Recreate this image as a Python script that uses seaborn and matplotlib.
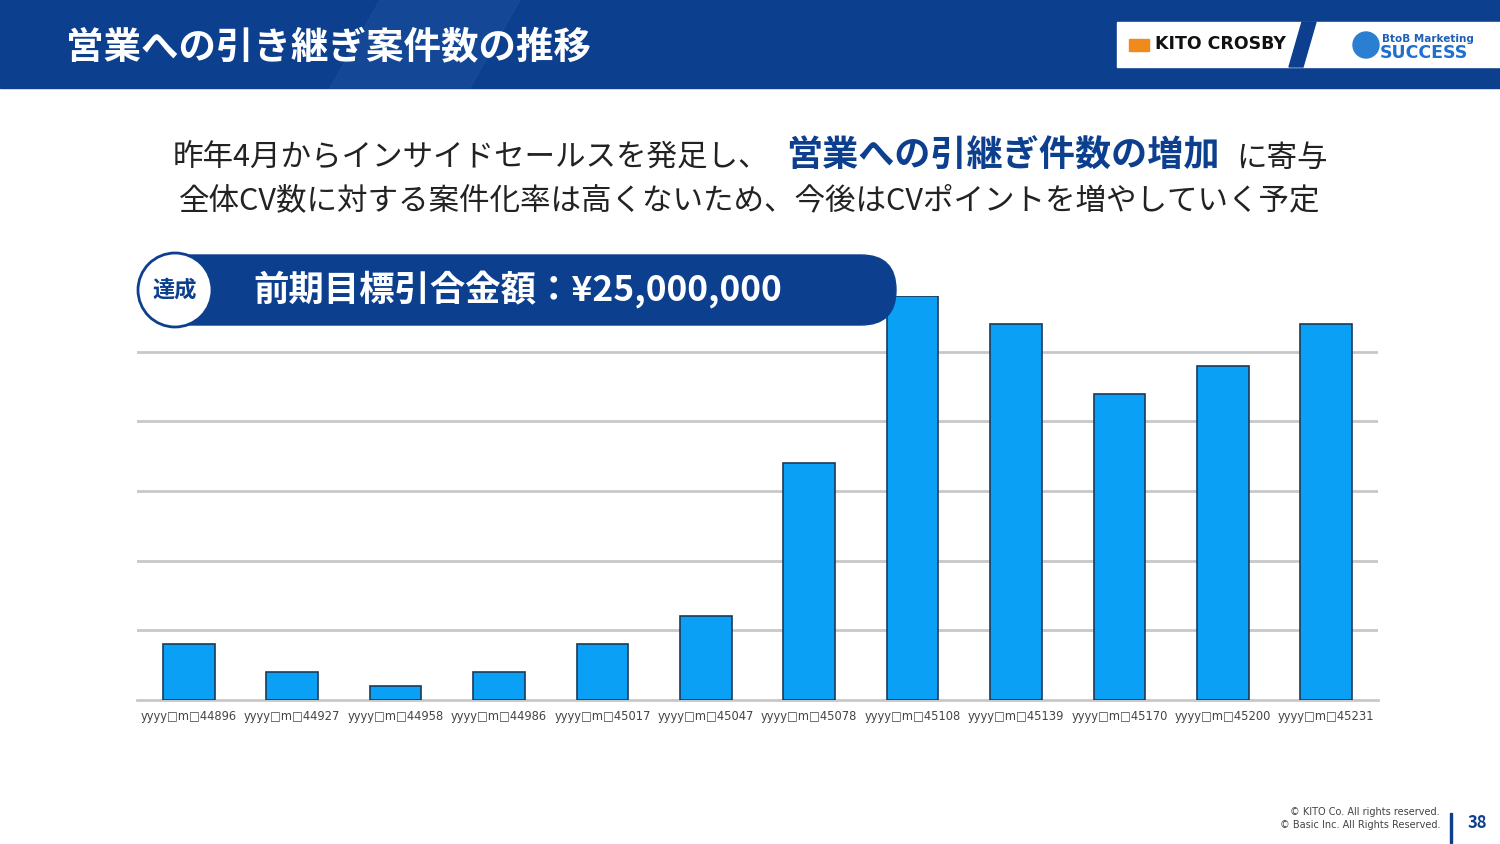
import matplotlib
matplotlib.use("Agg")
import matplotlib.pyplot as plt
import seaborn as sns
import pandas as pd
from matplotlib.patches import Rectangle, FancyBboxPatch, Ellipse, Polygon

plt.rcParams["font.family"] = ["Noto Sans CJK JP", "DejaVu Sans"]

serials = ["44896", "44927", "44958", "44986", "45017", "45047", "45078", "45108", "45139", "45170", "45200", "45231"]
labels = ["yyyy\u25a1m\u25a1" + s for s in serials]
values = [4, 2, 1, 2, 4, 6, 17, 29, 27, 22, 24, 27]

W, H = 1500, 844
fig = plt.figure(figsize=(15, 8.44), dpi=100)

def fx(x): return x / W
def fy(y): return 1 - y / H

# header
fig.patches.append(Rectangle((0, fy(88)), 1, 88 / H, transform=fig.transFigure, color="#0d3f8f", zorder=0))
fig.patches.append(Polygon([[fx(380), 1], [fx(520), 1], [fx(470), fy(88)], [fx(330), fy(88)]], closed=True,
                           transform=fig.transFigure, color="#1a4f9e", alpha=0.6, zorder=0))
fig.text(fx(66), fy(48), "営業への引き継ぎ案件数の推移", color="white", fontsize=27, fontweight="bold", va="center")
fig.patches.append(Rectangle((fx(1117), fy(67)), (1500 - 1117) / W, 45 / H, transform=fig.transFigure, color="white", zorder=1))
fig.patches.append(Polygon([[fx(1302), fy(22)], [fx(1316), fy(22)], [fx(1303), fy(67)], [fx(1289), fy(67)]], closed=True,
                           transform=fig.transFigure, color="#0d3f8f", zorder=2))
fig.patches.append(Rectangle((fx(1129), fy(51)), 20 / W, 12 / H, transform=fig.transFigure, color="#f08a1c", zorder=2))
fig.text(fx(1155), fy(44), "KITO CROSBY", fontsize=12.5, fontweight="black", color="#111111", va="center", family="DejaVu Sans")
fig.patches.append(Ellipse((fx(1366), fy(45)), 26 / W, 26 / H, transform=fig.transFigure, color="#2a7fd0", zorder=2))
fig.text(fx(1382), fy(39), "BtoB Marketing", fontsize=7.5, fontweight="bold", color="#1e5fb8", va="center", family="DejaVu Sans")
fig.text(fx(1380), fy(53), "SUCCESS", fontsize=12.5, fontweight="black", color="#1e6fd0", va="center", family="DejaVu Sans")

# subtitle
fig.text(fx(173), fy(158), "昨年4月からインサイドセールスを発足し、", fontsize=22, color="#222222", va="center")
fig.text(fx(786), fy(156), "営業への引継ぎ件数の増加", fontsize=26, fontweight="bold", color="#0d3f8f", va="center")
fig.text(fx(1236), fy(158), "に寄与", fontsize=22, color="#222222", va="center")
fig.text(fx(750), fy(201), "全体CV数に対する案件化率は高くないため、今後はCVポイントを増やしていく予定", fontsize=22,
         color="#222222", va="center", ha="center")

# chart
ax = fig.add_axes([fx(137), fy(700), (1378 - 137) / W, (700 - 296) / H])
df = pd.DataFrame({"label": labels, "value": values})
sns.barplot(data=df, x="label", y="value", color="#0aa0f5", width=0.5, edgecolor="#1b3a5a", linewidth=1.2,
            saturation=1, ax=ax, zorder=3)
ax.set_ylim(0, 29)
ax.set_yticks([5, 10, 15, 20, 25])
ax.yaxis.grid(True, color="#c8c8c8", linewidth=2)
ax.set_axisbelow(True)
ax.set_yticklabels([])
ax.tick_params(length=0)
ax.set_xlabel(""); ax.set_ylabel("")
for s in ["top", "right", "left"]:
    ax.spines[s].set_visible(False)
ax.spines["bottom"].set_color("#c8c8c8"); ax.spines["bottom"].set_linewidth(2)
ax.set_xlim(-0.5, 11.5)
ax.set_xticks(range(12))
ax.set_xticklabels(labels, fontsize=8.3, color="#444444", family="DejaVu Sans")
ax.tick_params(axis="x", pad=7)

# banner
fig.patches.append(FancyBboxPatch((fx(140), fy(325)), (896 - 140) / W, 70 / H,
                                  boxstyle="round,pad=0,rounding_size=0.0233", transform=fig.transFigure,
                                  color="#0d3f8f", zorder=5, mutation_aspect=W / H))
fig.patches.append(Ellipse((fx(175), fy(290)), 74 / W, 74 / H, transform=fig.transFigure, facecolor="white",
                           edgecolor="#0d3f8f", linewidth=2, zorder=6))
fig.text(fx(175), fy(290), "達成", fontsize=16, fontweight="bold", color="#0d3f8f", ha="center", va="center", zorder=7)
fig.text(fx(253), fy(290), "前期目標引合金額：¥25,000,000", fontsize=25.5, fontweight="bold", color="white",
         va="center", zorder=7)

# footer
fig.text(fx(1440), fy(812), "© KITO Co. All rights reserved.", fontsize=7, color="#444444", ha="right", va="center", family="DejaVu Sans")
fig.text(fx(1440), fy(825), "© Basic Inc. All Rights Reserved.", fontsize=7, color="#444444", ha="right", va="center", family="DejaVu Sans")
fig.patches.append(Rectangle((fx(1450), fy(843)), 2 / W, 30 / H, transform=fig.transFigure, color="#0d3f8f"))
fig.text(fx(1477), fy(823), "38", fontsize=12, fontweight="bold", color="#0d3f8f", ha="center", va="center")

fig.savefig("out.png", dpi=100)
